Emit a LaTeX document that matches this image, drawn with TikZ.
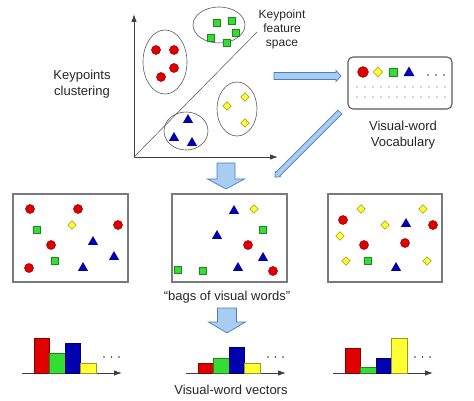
\documentclass[tikz,border=0pt]{standalone}
\usepackage{fontspec}
\setmainfont{Liberation Sans}
\usetikzlibrary{arrows.meta}
\definecolor{SymRed}{HTML}{E00000}
\definecolor{SymGreen}{HTML}{33DD33}
\definecolor{SymYellow}{HTML}{FFFF33}
\definecolor{SymBlue}{HTML}{0000B0}
\definecolor{FrameGray}{HTML}{7A7A7A}
\definecolor{ArrowFill}{HTML}{A9CDF2}
\definecolor{ArrowEdge}{HTML}{4A7EBB}

\begin{document}
\begin{tikzpicture}[x=1pt,y=-1pt,
      frame/.style={draw=FrameGray,line width=1.1pt,fill=white,inner sep=0pt},
      blob/.style={draw=black!65,line width=0.6pt},
      axis/.style={draw=black!75,line width=0.9pt,-{Latex[length=8pt,width=5.5pt]}},
      blockarr/.style={draw=ArrowEdge,fill=ArrowFill,line width=0.7pt},
      sym/.style={fill=#1,draw=#1!60!black,line width=0.5pt},
      bar/.style={fill=#1,draw=#1!60!black,line width=0.6pt},
      lbl/.style={font=\fontsize{13}{15.5}\selectfont,align=center,text=black!85},
      pics/rdot/.style={code={\draw[sym=SymRed] (0,0) circle[radius=4.5];}},
      pics/gsq/.style={code={\draw[sym=SymGreen] (-3.5,-3.5) rectangle (3.5,3.5);}},
      pics/ydia/.style={code={\draw[sym=SymYellow] (0,-4.3)--(4.3,0)--(0,4.3)--(-4.3,0)--cycle;}},
      pics/btri/.style={code={\fill[SymBlue] (-5,3.8)--(5,3.8)--(0,-5)--cycle;}},
      pics/barrow/.style n args={4}{code={
        \draw[blockarr] (0,-#2)--(#1-#4,-#2)--(#1-#4,-#3)--(#1,0)--(#1-#4,#3)--(#1-#4,#2)--(0,#2)--cycle;}},
      pics/hist/.style n args={4}{code={
        \draw[axis] (0,0) -- (100,0);
        \draw[bar=SymRed] (12,0) rectangle ++(15.5,-#1);
        \draw[bar=SymGreen] (27.5,0) rectangle ++(15.5,-#2);
        \draw[bar=SymBlue] (43,0) rectangle ++(15.5,-#3);
        \draw[bar=SymYellow] (58.5,0) rectangle ++(15.5,-#4);
        \foreach \d in {82,89.5,97} \fill[black!80] (\d,-16) circle[radius=0.9];}}]
  \useasboundingbox (0,0) rectangle (474,401);

  % feature space with clusters
  \draw[axis] (134,157) -- (134,14);
  \draw[axis] (134,157) -- (278,157);
  \draw[black!70,line width=0.5pt] (134,157) -- (257,32);
  \draw[blob] (165,62) ellipse[x radius=22,y radius=32];
  \draw[blob] (219,25) ellipse[x radius=26,y radius=18];
  \draw[blob] (237,109) ellipse[x radius=20,y radius=27];
  \draw[blob] (186,131) ellipse[x radius=22,y radius=19];
  \foreach \x/\y in {156/50,174/50,174/68,161/77} \pic at (\x,\y) {rdot};
  \foreach \x/\y in {217/23,232/21,236/33,211/38,227/43} \pic at (\x,\y) {gsq};
  \foreach \x/\y in {245/97,227/106,245/123} \pic at (\x,\y) {ydia};
  \foreach \x/\y in {188/119,174/137,192/142} \pic at (\x,\y) {btri};
  \node[lbl] (clusterlbl) at (82,84) {Keypoints\\clustering};
  \node[lbl,font=\fontsize{12}{14}\selectfont] (spacelbl) at (282,29) {Keypoint\\feature\\space};

  % vocabulary
  \node[frame,draw=black!65,rounded corners=5pt,minimum width=104pt,minimum height=52pt] (vocab) at (400,83) {};
  \pic[scale=1.2] at (363,72) {rdot};
  \pic[scale=1.1] at (378,72) {ydia};
  \pic[scale=1.1] at (393,72) {gsq};
  \pic[scale=1.1] at (409,72) {btri};
  \foreach \x in {428,436,444} \fill[black!80] (\x,75) circle[radius=0.8];
  \foreach \i in {0,...,11} {
    \fill[black!70] (357+8*\i,87) circle[radius=0.6];
    \fill[black!70] (357+8*\i,97) circle[radius=0.6];
  }
  \node[lbl] (vocablbl) at (403,135) {Visual-word\\Vocabulary};

  % block arrows
  \pic at (274,76) {barrow={67}{3.5}{5.5}{5}};
  \pic[rotate=225] at (340,112) {barrow={92}{2.7}{3.6}{4}};
  \pic[rotate=-90] at (226,163) {barrow={26}{9}{18.5}{10}};
  \pic[rotate=-90] at (227,308) {barrow={25}{9.5}{18.5}{11}};

  % bags of visual words
  \node[frame,minimum width=115pt,minimum height=88pt] (bagA) at (70.5,238) {};
  \node[frame,minimum width=115pt,minimum height=88pt] (bagB) at (229.5,238) {};
  \node[frame,minimum width=114pt,minimum height=88pt] (bagC) at (385,238) {};
  \foreach \x/\y in {30/209,78/209,118/225,51/245,29/268,248/245,273/271,343/220,433/225,364/245,405/243} \pic at (\x,\y) {rdot};
  \foreach \x/\y in {37/230,55/261,263/230,178/270,203/271,368/261} \pic at (\x,\y) {gsq};
  \foreach \x/\y in {72/225,254/209,361/209,423/209,385/225,340/236,346/261,427/261} \pic at (\x,\y) {ydia};
  \foreach \x/\y in {93/241,114/256,83/267,234/210,217/235,263/257,238/267,406/223,396/267} \pic at (\x,\y) {btri};
  \node[lbl] (bagslbl) at (227,297) {``bags of visual words''};

  % visual-word vectors
  \pic at (22,373) {hist={35}{20}{30}{10}};
  \pic at (186,373) {hist={10}{15}{26}{10}};
  \pic at (333,373) {hist={25}{6}{15}{35}};
  \node[lbl] (vectorlbl) at (231,390) {Visual-word vectors};
\end{tikzpicture}
\end{document}
